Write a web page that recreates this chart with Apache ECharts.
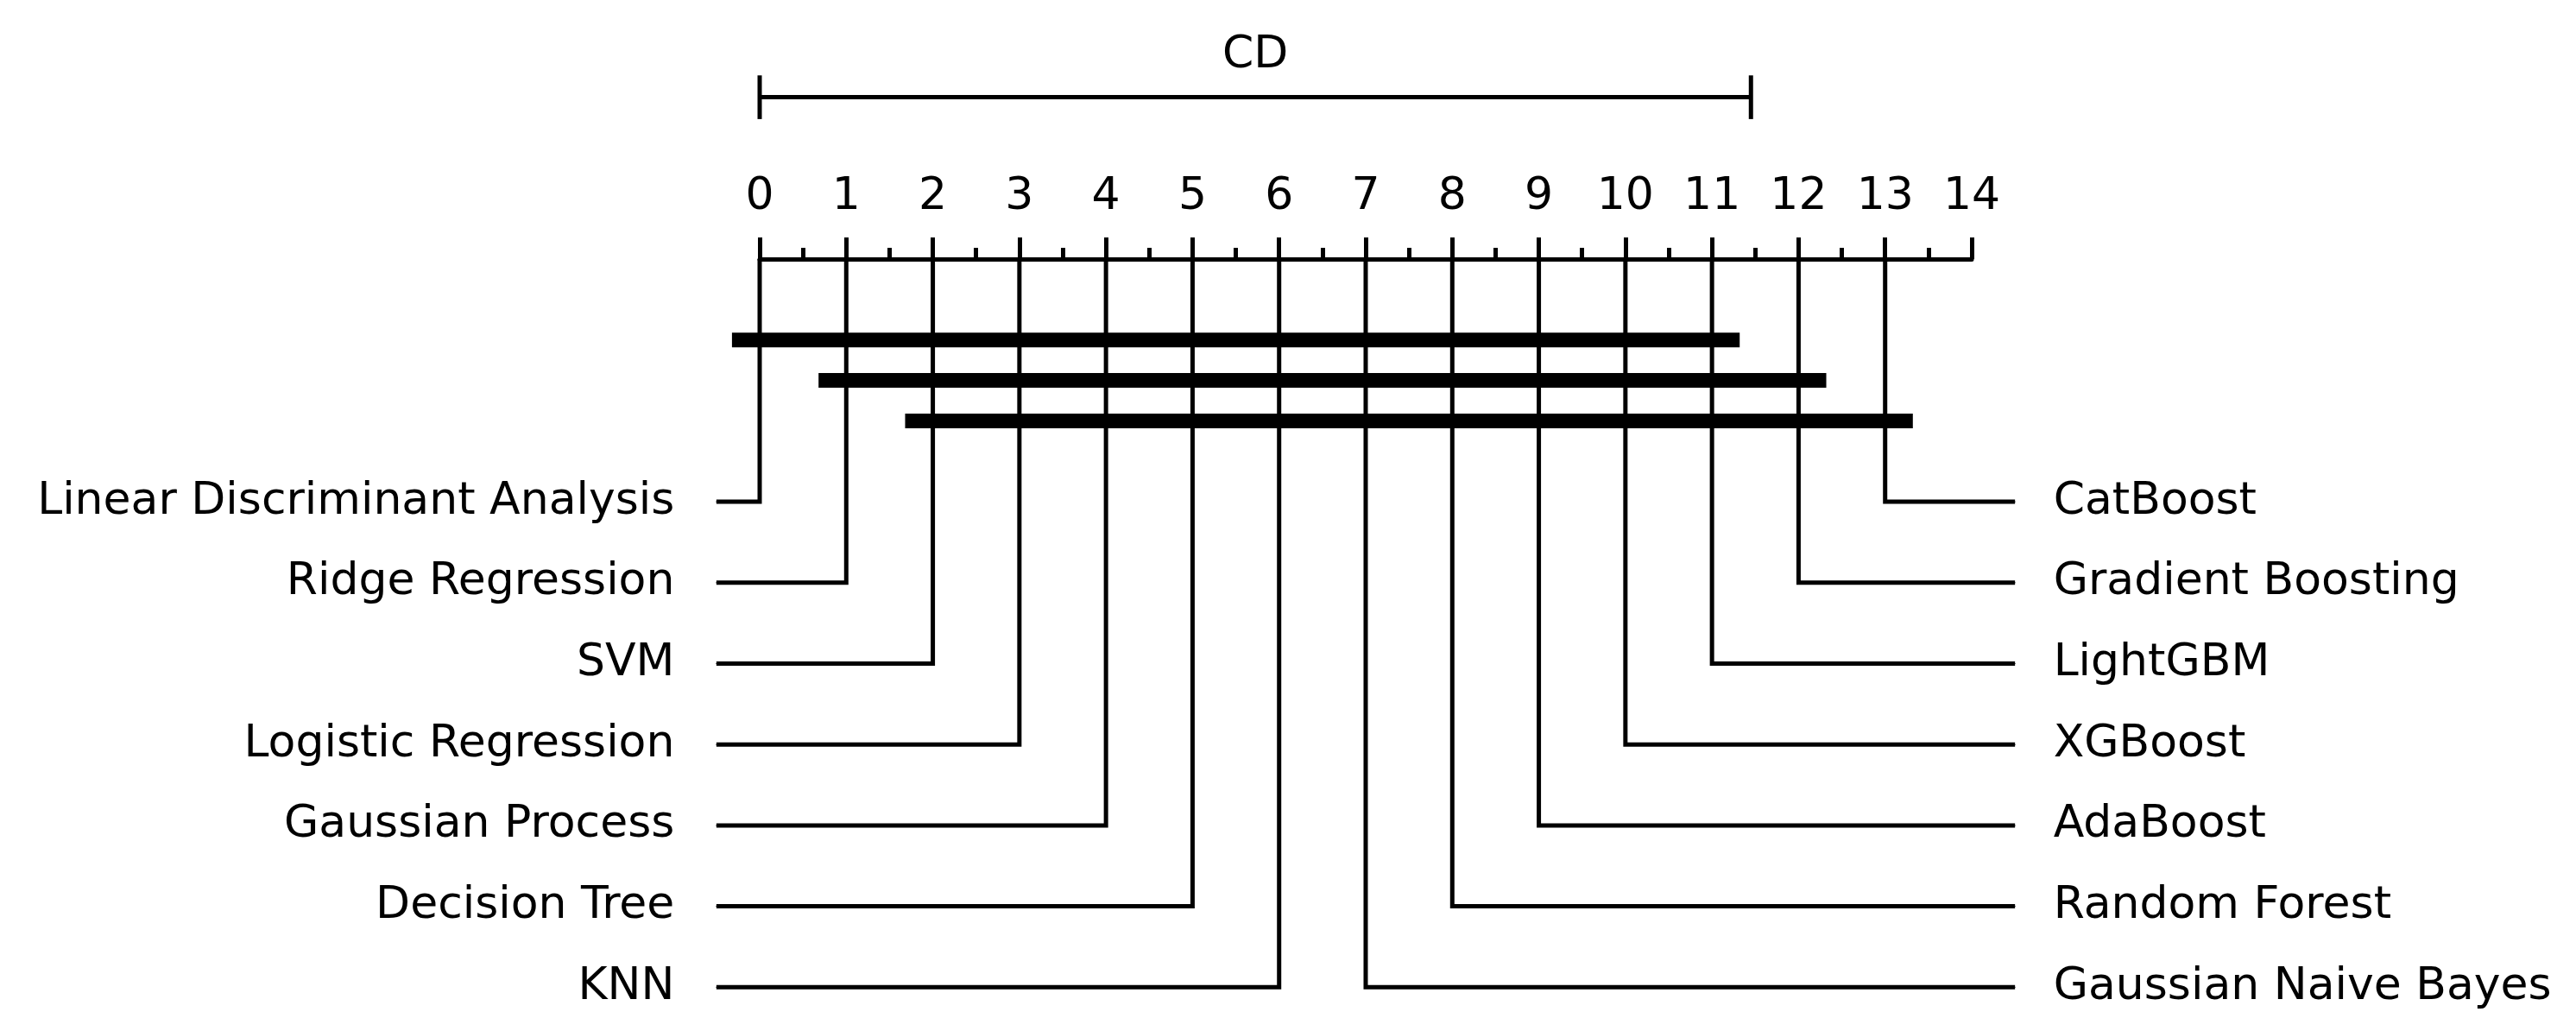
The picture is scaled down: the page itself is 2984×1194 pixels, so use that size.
<!DOCTYPE html>
<html><head><meta charset="utf-8">
<script src="https://cdn.jsdelivr.net/npm/echarts@6/dist/echarts.min.js"></script>
<style>html,body{margin:0;padding:0;background:#fff}#c{width:2984px;height:1194px}</style>
</head><body><div id="c"></div>
<script>
// ---- data ----
const methods = ['Linear Discriminant Analysis','Ridge Regression','SVM','Logistic Regression','Gaussian Process','Decision Tree','KNN','Gaussian Naive Bayes','Random Forest','AdaBoost','XGBoost','LightGBM','Gradient Boosting','CatBoost'];
const ranks = [0,1,2,3,4,5,6,7,8,9,10,11,12,13];
const cliques = [[0,11],[1,12],[2,13]];
const cdValue = 11.45;
const axisTicks = [0,1,2,3,4,5,6,7,8,9,10,11,12,13,14];

// ---- layout (styles / positions) ----
const U = 93.7;            // px per vertical unit
const yMin = -3.2, yMax = 9.5;
const axisYpx = 300;
const axLeft = 880, axWidth = 1404;
const xLo = axisTicks[0], xHi = axisTicks[axisTicks.length - 1];
const unitPx = axWidth / (xHi - xLo);
const ext = 1;             // extra range of the hidden drawing axis
const leftEdge = -0.5, rightEdge = 14.5;
const cliquePad = 0.32;
const font = 'DejaVu Sans';
const black = '#000000';

const n = methods.length, half = Math.ceil(n / 2);
const series = [];
const leftLabels = [], rightLabels = [];
const base = { silent: true, animation: false, xAxisIndex: 1, yAxisIndex: 1, clip: false };
methods.forEach((m, i) => {
  const left = i < half;
  const row = left ? i : (n - 1 - i);
  const y = 3 + row;
  const edge = left ? leftEdge : rightEdge;
  series.push(Object.assign({
    type: 'line', symbol: 'none', z: 2,
    lineStyle: { color: black, width: 5, join: 'miter', cap: 'butt' },
    data: [[ranks[i], 0], [ranks[i], y], [edge, y]]
  }, base));
  (left ? leftLabels : rightLabels).push({ name: m, value: [edge, y] });
});
cliques.forEach((c, k) => {
  const y = 1 + 0.5 * k;
  series.push(Object.assign({
    type: 'line', symbol: 'none', z: 3,
    lineStyle: { color: black, width: 17, cap: 'butt' },
    data: [[ranks[c[0]] - cliquePad, y], [ranks[c[1]] + cliquePad, y]]
  }, base));
});
// CD bar
const cdY = -2, cap = 0.27;
[[[0, cdY], [cdValue, cdY]], [[0, cdY - cap], [0, cdY + cap]], [[cdValue, cdY - cap], [cdValue, cdY + cap]]].forEach(d => {
  series.push(Object.assign({
    type: 'line', symbol: 'none', z: 2,
    lineStyle: { color: black, width: 5, cap: 'butt' }, data: d
  }, base));
});
const labelSeries = (data, extra) => Object.assign({
  type: 'scatter', symbolSize: 1, z: 1,
  itemStyle: { color: black, opacity: 1 },
  label: Object.assign({ show: true, color: black, opacity: 1, fontFamily: font, fontSize: 52, textBorderWidth: 0, textShadowBlur: 0 }, extra),
  emphasis: { disabled: true },
  labelLayout: { hideOverlap: false },
  data
}, base);
series.push(labelSeries([[cdValue / 2, cdY]], { position: 'top', distance: 22, formatter: 'CD' }));
series.push(labelSeries(leftLabels, { position: 'left', distance: 48, formatter: '{b}' }));
series.push(labelSeries(rightLabels, { position: 'right', distance: 44, formatter: '{b}' }));

const chart = echarts.init(document.getElementById('c'));
chart.setOption({
  backgroundColor: '#fff',
  animation: false,
  textStyle: { color: black, fontFamily: font },
  grid: [
    { left: axLeft, width: axWidth, top: axisYpx, height: yMax * U, containLabel: false, outerBoundsMode: 'none' },
    { left: axLeft - ext * unitPx, width: axWidth + 2 * ext * unitPx, top: axisYpx + yMin * U, height: (yMax - yMin) * U, containLabel: false, outerBoundsMode: 'none' }
  ],
  xAxis: [{
    type: 'value', gridIndex: 0, position: 'top', min: xLo, max: xHi, interval: 1,
    axisLine: { show: true, onZero: false, lineStyle: { color: black, width: 5 } },
    axisTick: { show: true, length: 25, lineStyle: { color: black, width: 5 } },
    minorTick: { show: true, splitNumber: 2, length: 13, lineStyle: { color: black, width: 5 } },
    splitLine: { show: false },
    axisLabel: { show: true, margin: 46, color: black, fontFamily: font, fontSize: 52, showMinLabel: true, showMaxLabel: true, hideOverlap: false }
  }, {
    type: 'value', gridIndex: 1, min: xLo - ext, max: xHi + ext, show: false, splitLine: { show: false }
  }],
  yAxis: [
    { type: 'value', gridIndex: 0, inverse: true, min: 0, max: yMax, show: false, splitLine: { show: false } },
    { type: 'value', gridIndex: 1, inverse: true, min: yMin, max: yMax, show: false, splitLine: { show: false } }
  ],
  series
});
</script></body></html>
